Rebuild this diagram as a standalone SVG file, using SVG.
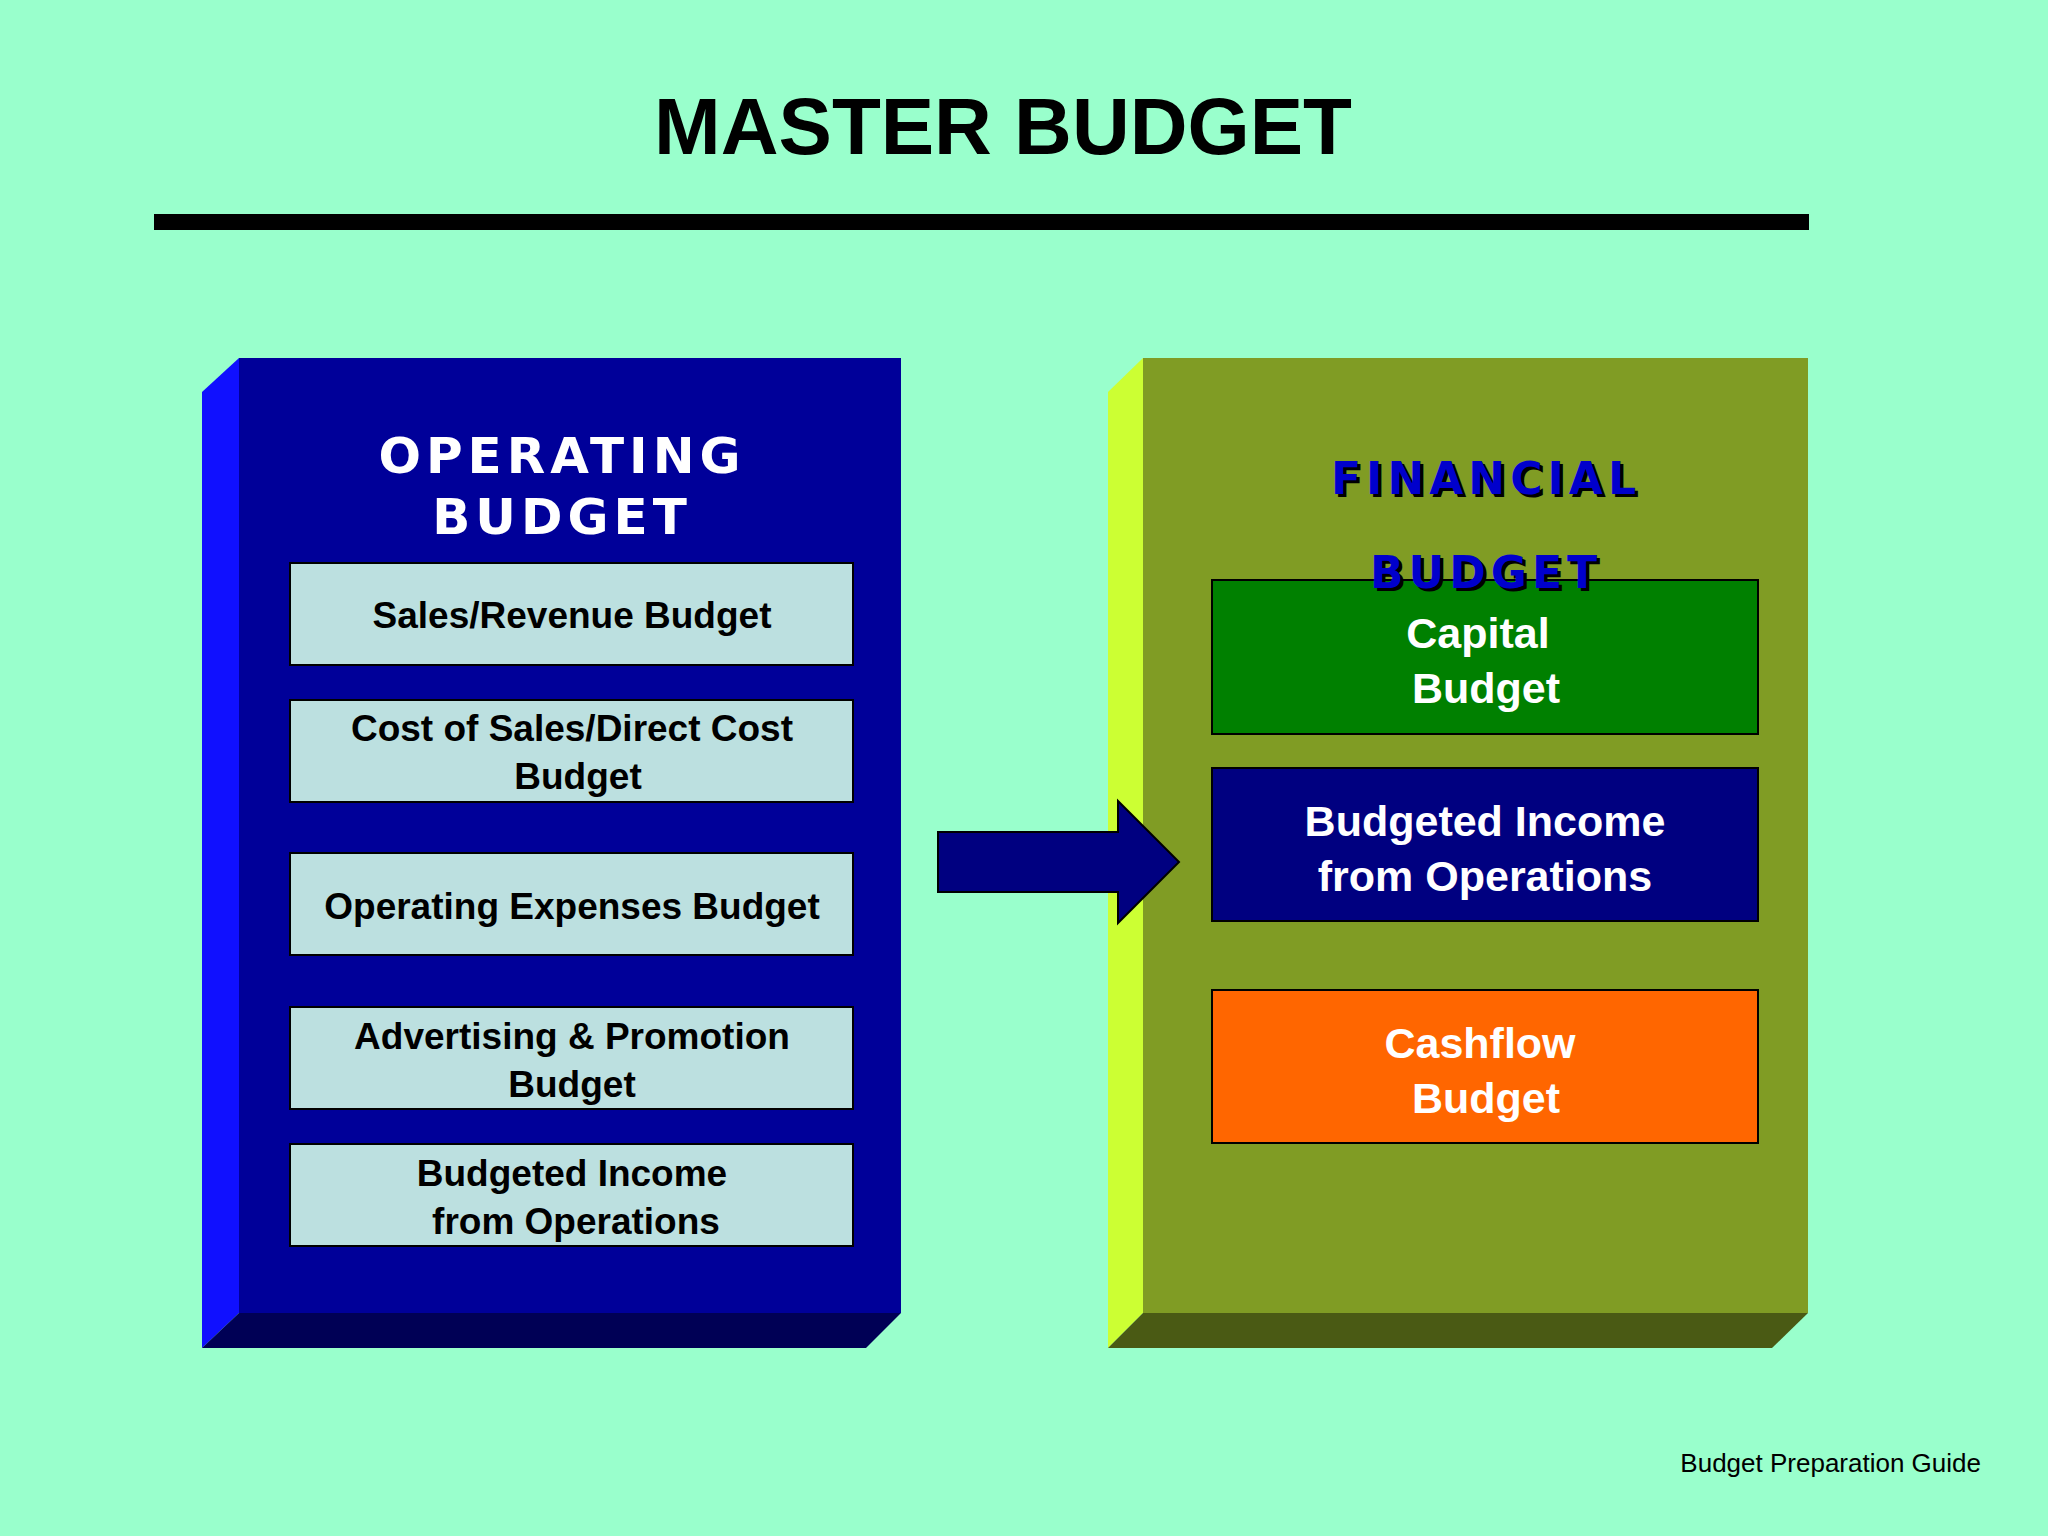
<svg xmlns="http://www.w3.org/2000/svg" width="2048" height="1536" viewBox="0 0 2048 1536">
<style>
.t{font-family:"Liberation Sans",Arial,sans-serif;font-weight:bold;text-anchor:middle}
.it{fill:#BCE0E0;stroke:#000;stroke-width:2}
.h{font-family:"DejaVu Sans",sans-serif;font-weight:900;text-anchor:middle;letter-spacing:5px}
</style>
<rect width="2048" height="1536" fill="#99FFCC"/>
<text class="t" x="1003" y="154" font-size="80">MASTER BUDGET</text>
<rect x="154" y="214" width="1655" height="16" fill="#000"/>
<g id="operating">
<polygon points="202,392 239,358 239,1313 202,1348" fill="#1010FF"/>
<polygon points="202,1348 239,1313 901,1313 866,1348" fill="#000055"/>
<rect x="239" y="358" width="662" height="955" fill="#000099"/>
<text class="h" x="562" y="473" font-size="50" fill="#fff">OPERATING</text>
<text class="h" x="562" y="534" font-size="50" fill="#fff">BUDGET</text>
</g>
<g id="sales"><rect class="it" x="290" y="563" width="563" height="102"/><text class="t" x="572" y="628" font-size="37">Sales/Revenue Budget</text></g>
<g id="cost"><rect class="it" x="290" y="700" width="563" height="102"/><text class="t" x="572" y="741" font-size="37">Cost of Sales/Direct Cost</text><text class="t" x="578" y="789" font-size="37">Budget</text></g>
<g id="opex"><rect class="it" x="290" y="853" width="563" height="102"/><text class="t" x="572" y="919" font-size="37">Operating Expenses Budget</text></g>
<g id="adv"><rect class="it" x="290" y="1007" width="563" height="102"/><text class="t" x="572" y="1049" font-size="37">Advertising &amp; Promotion</text><text class="t" x="572" y="1097" font-size="37">Budget</text></g>
<g id="bio"><rect class="it" x="290" y="1144" width="563" height="102"/><text class="t" x="572" y="1186" font-size="37">Budgeted Income</text><text class="t" x="576" y="1234" font-size="37">from Operations</text></g>
<g id="financial">
<polygon points="1108,392 1143,358 1143,1313 1108,1348" fill="#CCFF33"/>
<polygon points="1108,1348 1143,1313 1808,1313 1772,1348" fill="#4A5A14"/>
<rect x="1143" y="358" width="665" height="955" fill="#809C24"/>
</g>
<g id="capital"><rect x="1212" y="580" width="546" height="154" fill="#008000" stroke="#000" stroke-width="2"/><text class="t" x="1478" y="648" font-size="43" fill="#fff">Capital</text><text class="t" x="1486" y="703" font-size="43" fill="#fff">Budget</text></g>
<g id="fintitle">
<text class="h" x="1489" y="497" font-size="44" fill="#000">FINANCIAL</text>
<text class="h" x="1486" y="494" font-size="44" fill="#0000CC">FINANCIAL</text>
<text class="h" x="1489" y="591" font-size="44" fill="#000">BUDGET</text>
<text class="h" x="1486" y="588" font-size="44" fill="#0000CC">BUDGET</text>
</g>
<g id="income"><rect x="1212" y="768" width="546" height="153" fill="#000080" stroke="#000" stroke-width="2"/><text class="t" x="1485" y="836" font-size="43" fill="#fff">Budgeted Income</text><text class="t" x="1485" y="891" font-size="43" fill="#fff">from Operations</text></g>
<g id="cashflow"><rect x="1212" y="990" width="546" height="153" fill="#FF6600" stroke="#000" stroke-width="2"/><text class="t" x="1480" y="1058" font-size="43" fill="#fff">Cashflow</text><text class="t" x="1486" y="1113" font-size="43" fill="#fff">Budget</text></g>
<g id="connectors"><polygon points="938,832 1118,832 1118,801 1179,862 1118,923 1118,892 938,892" fill="#000080" stroke="#000" stroke-width="2"/></g>
<text x="1981" y="1472" font-family="Liberation Sans,Arial,sans-serif" font-size="26" text-anchor="end" fill="#000">Budget Preparation Guide</text>
</svg>
